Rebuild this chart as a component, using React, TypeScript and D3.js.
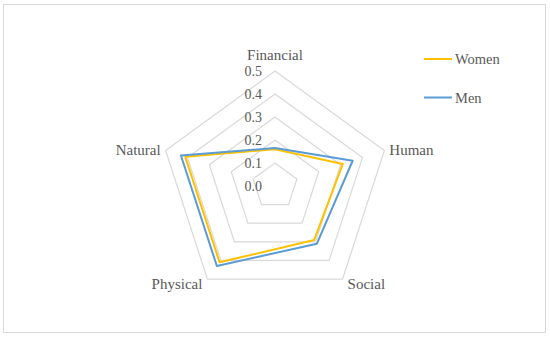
import React, { useEffect, useRef } from "react";
import * as d3 from "d3";

const categories = ["Financial", "Human", "Social", "Physical", "Natural"];
const women = [0.16, 0.31, 0.29, 0.41, 0.41];
const men = [0.165, 0.355, 0.31, 0.43, 0.43];
const ticks = [0.0, 0.1, 0.2, 0.3, 0.4, 0.5];
const seriesNames = ["Women", "Men"];

const drawRadar = (svgEl: SVGSVGElement) => {
  const width = 550;
  const height = 337;
  const cx = 275;
  const cy = 186;
  const radius = 115;
  const font = "'Liberation Serif', 'Times New Roman', serif";
  const textColor = "#595959";
  const gridColor = "#D9D9D9";
  const colors = ["#FFC000", "#5B9BD5"];

  const svg = d3.select(svgEl);
  svg.selectAll("*").remove();
  svg.attr("width", width).attr("height", height).attr("viewBox", [0, 0, width, height]);

  // outer chart frame
  svg.append("rect")
    .attr("x", 3.5).attr("y", 4.5)
    .attr("width", 542).attr("height", 328)
    .attr("fill", "#fff")
    .attr("stroke", gridColor);

  const r = d3.scaleLinear().domain([0, 0.5]).range([0, radius]);
  const angle = d3.scaleLinear().domain([0, categories.length]).range([0, 2 * Math.PI]);

  const g = svg.append("g").attr("transform", `translate(${cx},${cy})`);

  // grid rings + series share the same radial generator
  const radial = d3.lineRadial<number>()
    .angle((_, i) => angle(i))
    .radius((d) => r(d))
    .curve(d3.curveLinearClosed);

  g.append("g")
    .selectAll("path")
    .data(ticks.filter((t) => t > 0))
    .join("path")
    .attr("d", (t) => radial(categories.map(() => t)))
    .attr("fill", "none")
    .attr("stroke", gridColor)
    .attr("stroke-width", 1.2);

  // tick labels
  g.append("g")
    .selectAll("text")
    .data(ticks)
    .join("text")
    .attr("x", -13)
    .attr("y", (t) => -r(t))
    .attr("dy", "0.35em")
    .attr("text-anchor", "end")
    .attr("font-family", font)
    .attr("font-size", 14)
    .attr("fill", textColor)
    .text((t) => t.toFixed(1));

  // series
  g.append("g")
    .selectAll("path")
    .data([women, men])
    .join("path")
    .attr("d", (d) => radial(d))
    .attr("fill", "none")
    .attr("stroke", (_, i) => colors[i])
    .attr("stroke-width", 2)
    .attr("stroke-linejoin", "round");

  // category labels
  const labelR = r(0.5);
  g.append("g")
    .selectAll("text")
    .data(categories)
    .join("text")
    .attr("x", (_, i) => {
      const x = labelR * Math.sin(angle(i));
      if (i === 0) return 0;
      return x + (x > 0 ? 5 : -5);
    })
    .attr("y", (_, i) => {
      const y = -labelR * Math.cos(angle(i));
      if (i === 0) return y - 16;
      if (i === 1 || i === 4) return y - 1;
      return y + 5;
    })
    .attr("dy", "0.35em")
    .attr("text-anchor", (_, i) => {
      if (i === 0) return "middle";
      if (i === 1 || i === 2) return "start";
      return "end";
    })
    .attr("font-family", font)
    .attr("font-size", 15)
    .attr("fill", textColor)
    .text((d) => d);

  // legend
  const legend = svg.append("g")
    .selectAll("g")
    .data(seriesNames)
    .join("g")
    .attr("transform", (_, i) => `translate(424,${59 + i * 38.5})`);

  legend.append("line")
    .attr("x1", 0).attr("x2", 28)
    .attr("stroke", (_, i) => colors[i])
    .attr("stroke-width", 2);

  legend.append("text")
    .attr("x", 31)
    .attr("dy", "0.35em")
    .attr("font-family", font)
    .attr("font-size", 14.5)
    .attr("fill", textColor)
    .text((d) => d);
};

export default function App() {
  const svgRef = useRef<SVGSVGElement>(null);
  useEffect(() => {
    if (svgRef.current) drawRadar(svgRef.current);
  }, []);
  return (
    <svg
      ref={svgRef}
      style={{ position: "absolute", left: 0, top: 0, display: "block" }}
    />
  );
}
